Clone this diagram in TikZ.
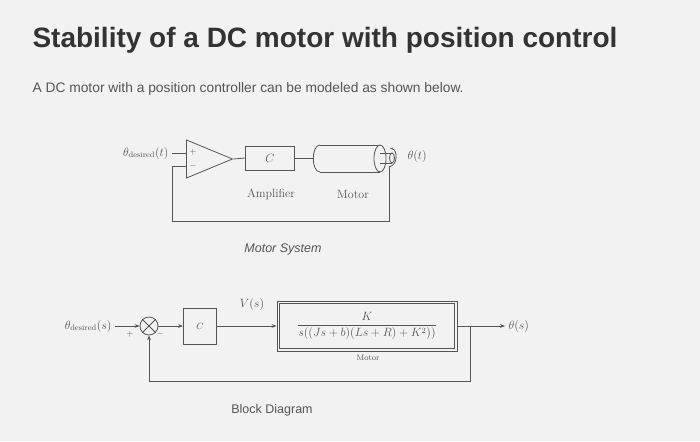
\documentclass[tikz,border=0pt]{standalone}
\usepackage{fontspec}
\setsansfont{Liberation Sans}
\usetikzlibrary{arrows.meta,shapes.geometric}
\definecolor{bg}{HTML}{F2F2F2}
\definecolor{ink}{HTML}{555555}
\definecolor{titlec}{HTML}{333333}
\begin{document}
\begin{tikzpicture}[x=1pt,y=-1pt,
  ln/.style={draw=ink,line width=0.8pt},
  arr/.style={ln,-{Stealth[length=5pt]}},
  lab/.style={text=ink,font=\fontsize{12}{14}\selectfont}]
\fill[bg] (0,0) rectangle (700,441);
\useasboundingbox (0,0) rectangle (700,441);
\node[anchor=west,text=titlec,font=\sffamily\bfseries\fontsize{28}{32}\selectfont] (title) at (29,40) {Stability of a DC motor with position control};
\node[anchor=west,text=ink,font=\sffamily\fontsize{13.8}{16}\selectfont] (intro) at (29,89) {A DC motor with a position controller can be modeled as shown below.};
% top diagram
\node[lab,anchor=east] (thd) at (172,153) {$\theta_{\mathrm{desired}}(t)$};
\node[ln,isosceles triangle,minimum width=27pt,minimum height=46pt,inner sep=0pt,anchor=west] (amp) at (186,159) {};
\node[lab,font=\small] (pl) at (193,152) {$+$};
\node[lab,font=\small] (mi) at (193,166) {$-$};
\node[ln,minimum width=49pt,minimum height=24pt,inner sep=0pt,lab] (cb) at (270,158) {$C$};
\draw[ln] (320,145) -- (380,145) (320,172) -- (380,172);
\draw[ln] (320,145) .. controls (311,145) and (311,172) .. (320,172);
\draw[ln] (380,158.5) ellipse[x radius=6,y radius=13.5];
\draw[ln] (380,153) -- (392,153) (380,163) -- (392,163);
\draw[ln] (392,158) ellipse[x radius=2.5,y radius=5];
\draw[ln,-{Stealth[length=3pt]}] (389,167) .. controls (398,165) and (398,150) .. (390,148);
\coordinate (shaft) at (389,166);
\node[lab,anchor=west] (tht) at (404,156) {$\theta(t)$};
\draw[ln] (thd.east) -- (186,153);
\draw[ln] (amp.apex) -- (cb.west);
\draw[ln] (cb.east) -- (314,158);
\draw[ln] (shaft) -- (389,221) -- (172,221) -- (172,166) -- (186,166);
\node[lab] (al) at (271,194) {Amplifier};
\node[lab] (ml) at (353,194) {Motor};
\node[text=ink,font=\sffamily\itshape\fontsize{12.5}{14}\selectfont] (ms) at (283,249) {Motor System};
% bottom diagram
\node[lab,anchor=east] (ths) at (115,326) {$\theta_{\mathrm{desired}}(s)$};
\node[ln,circle,minimum size=18pt,inner sep=0pt] (sum) at (149,326) {};
\draw[ln] (sum.north west) -- (sum.south east) (sum.north east) -- (sum.south west);
\node[lab,font=\small] (sp) at (130,334) {$+$};
\node[lab,font=\small] (sm) at (160,334) {$-$};
\node[ln,minimum width=33pt,minimum height=36pt,inner sep=0pt,lab,font=\small] (cb2) at (200,326) {$C$};
\node[lab] (vs) at (252,304) {$V(s)$};
\node[ln,minimum width=180pt,minimum height=50pt,inner sep=0pt] (mb) at (367,326) {};
\node[ln,minimum width=175pt,minimum height=45pt,inner sep=0pt,lab] (mbi) at (367,326) {$\displaystyle\frac{K}{s((Js+b)(Ls+R)+K^2))}$};
\node[lab,font=\footnotesize] (ml2) at (368,358) {Motor};
\node[lab,anchor=west] (thso) at (505,326) {$\theta(s)$};
\draw[arr] (ths.east) -- (sum.west);
\draw[arr] (sum.east) -- (cb2.west);
\draw[arr] (cb2.east) -- (mb.west);
\draw[arr] (mb.east) -- (thso.west);
\draw[arr] (470,326) -- (470,381) -- (149,381) -- (sum.south);
\node[text=ink,font=\sffamily\fontsize{12.5}{14}\selectfont] (bd) at (272,410) {Block Diagram};
\end{tikzpicture}
\end{document}
